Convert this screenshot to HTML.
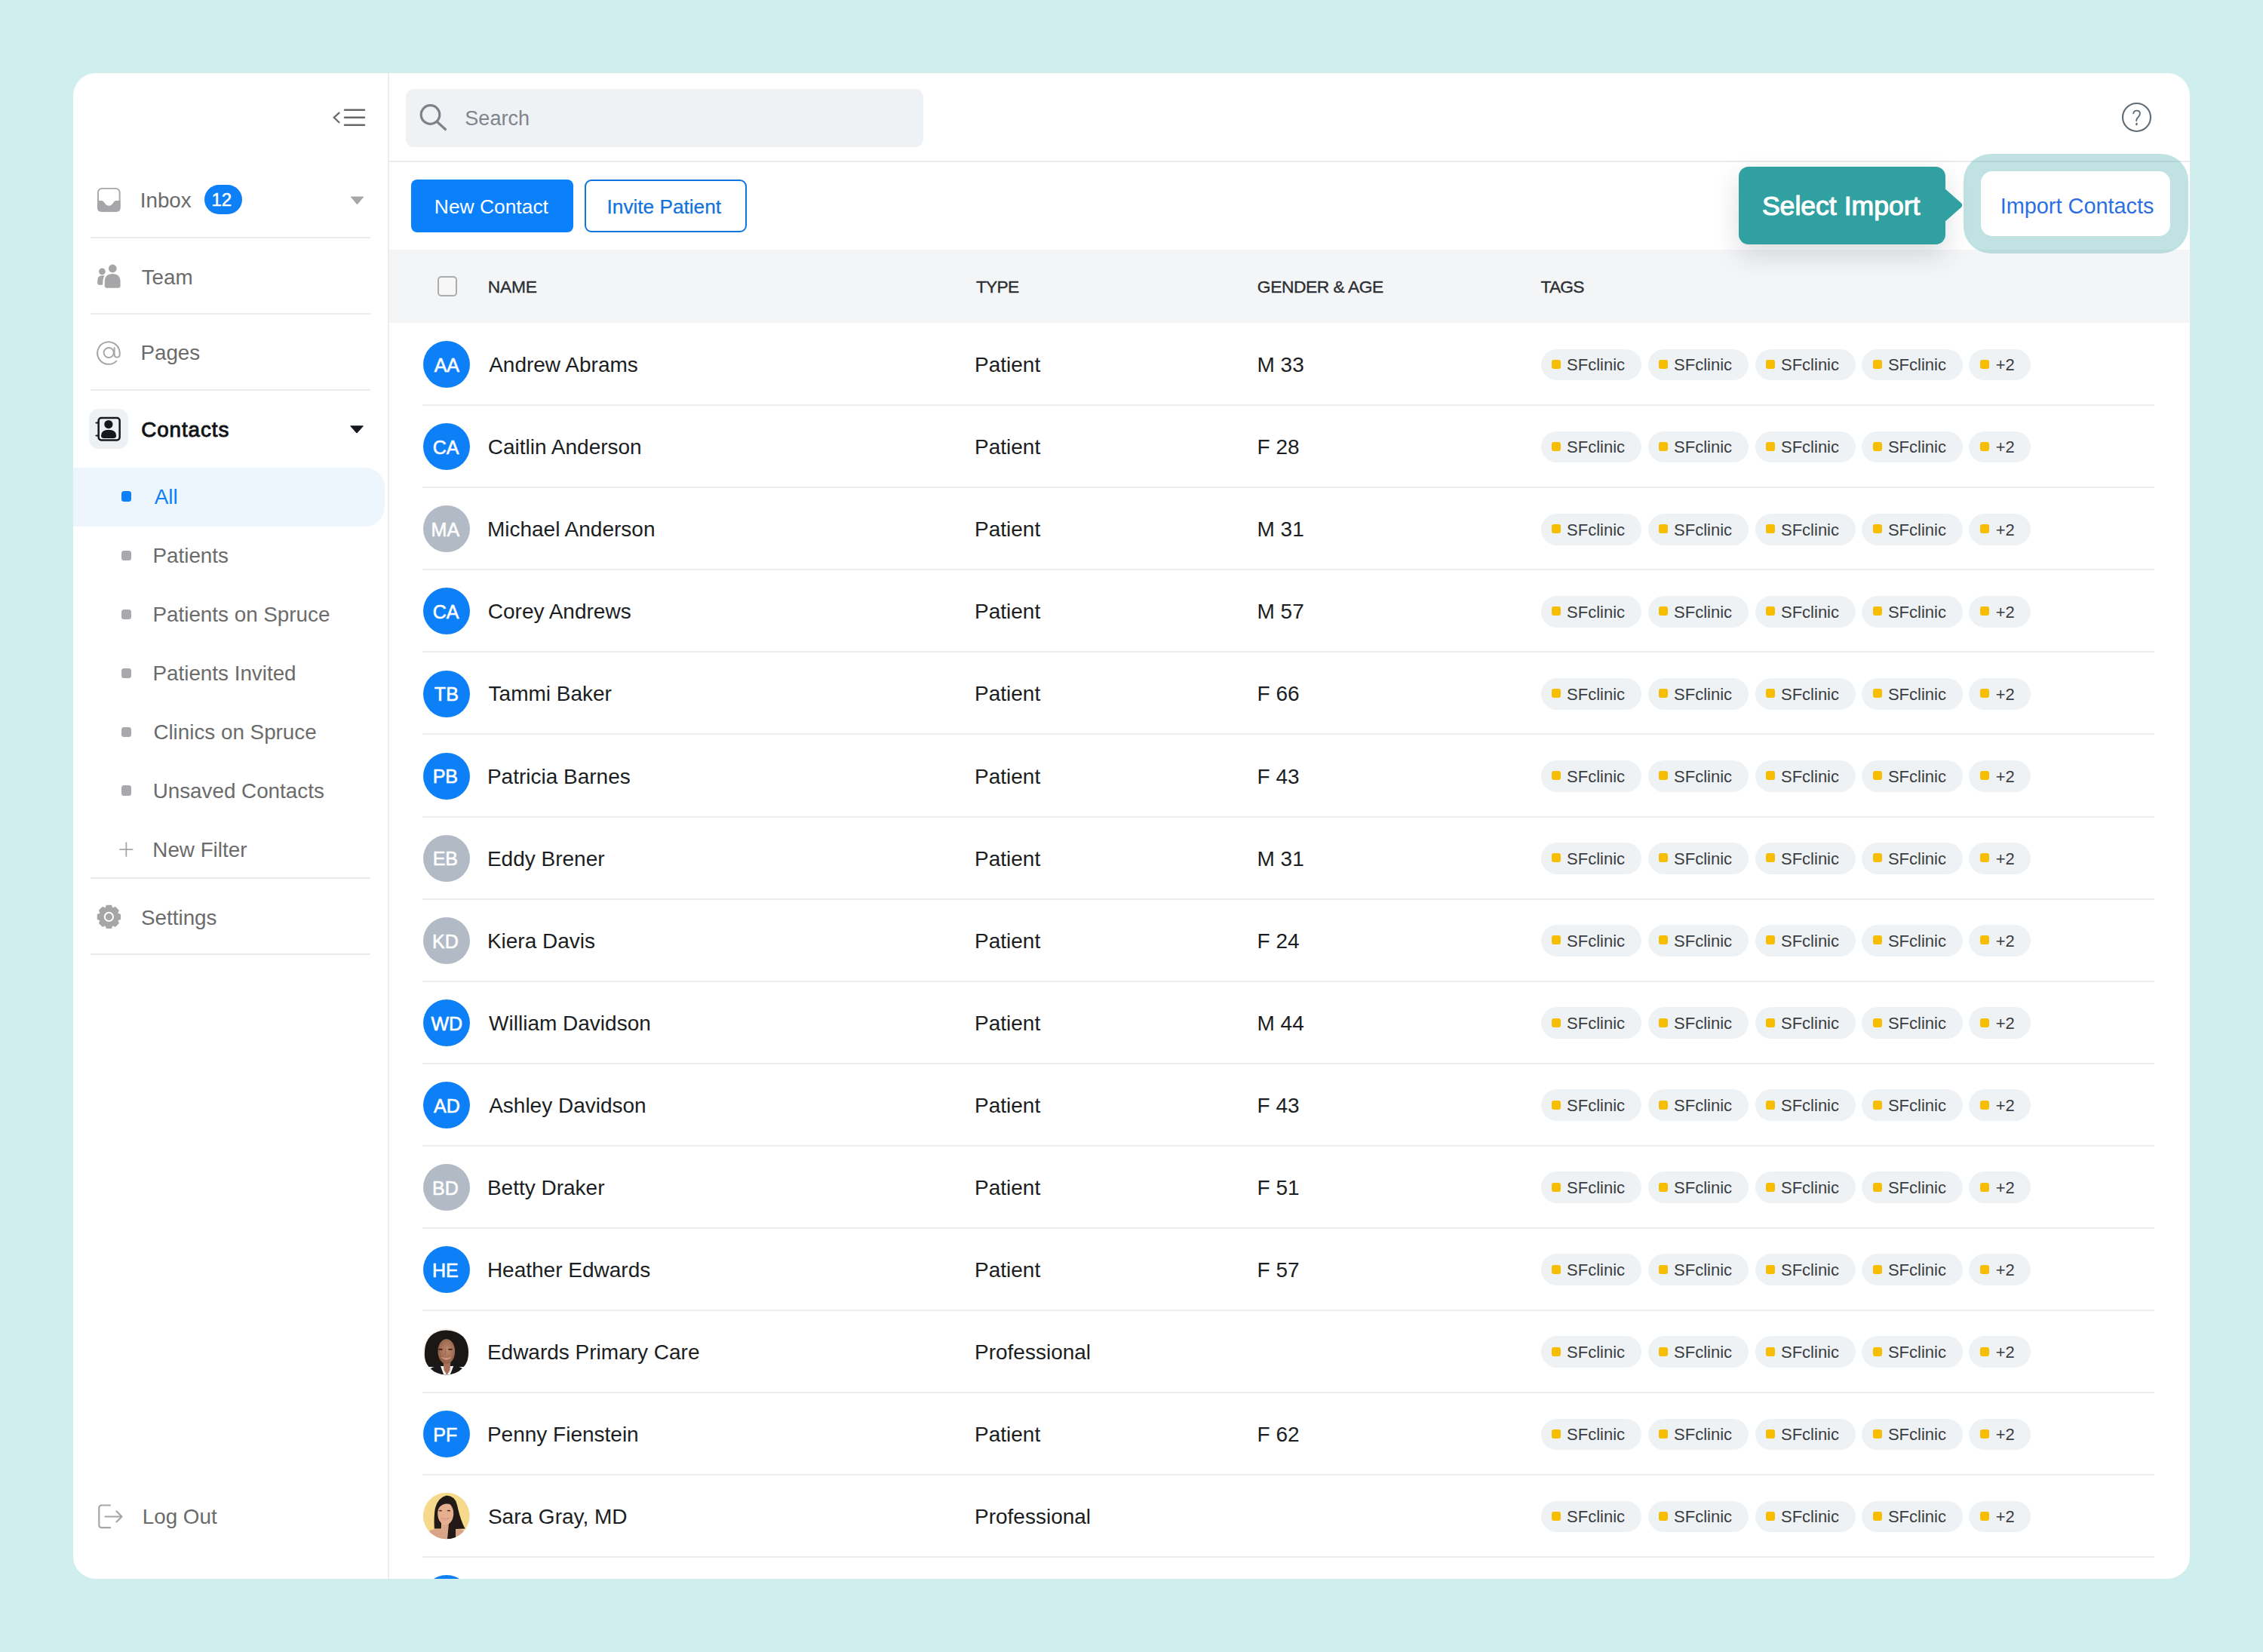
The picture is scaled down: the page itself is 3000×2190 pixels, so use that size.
<!DOCTYPE html><html><head><meta charset="utf-8"><style>
html,body{margin:0;padding:0;}
body{width:3000px;height:2190px;background:#d1eeee;position:relative;overflow:hidden;font-family:"Liberation Sans",sans-serif;}
.t{position:absolute;line-height:1;white-space:nowrap;}
.a{position:absolute;}
svg{position:absolute;overflow:visible;}
</style></head><body>
<div class="a" style="left:97px;top:97px;width:2806px;height:1996px;background:#fff;border-radius:30px;overflow:hidden;">
<div class="a" style="left:-97px;top:-97px;width:3000px;height:2190px;">
<div class="a" style="left:514px;top:97px;width:2px;height:1996px;background:#ececec;"></div>
<svg style="left:0;top:0" width="1" height="1"><g stroke="#686868" stroke-width="2.5" stroke-linecap="round" fill="none"><path d="M449.5 149.6 L442.8 155.8 L449.5 162.3" stroke-width="2.2"/><path d="M457 145.8H483M457 155.8H483M457 165.7H483"/></g></svg>
<div class="a" style="left:120px;top:314px;width:371px;height:2px;background:#ebebeb;"></div>
<div class="a" style="left:120px;top:415px;width:371px;height:2px;background:#ebebeb;"></div>
<div class="a" style="left:120px;top:516px;width:371px;height:2px;background:#ebebeb;"></div>
<div class="a" style="left:120px;top:1163px;width:371px;height:2px;background:#ebebeb;"></div>
<div class="a" style="left:120px;top:1264px;width:371px;height:2px;background:#ebebeb;"></div>
<svg style="left:0;top:0" width="1" height="1"><rect x="130.05" y="249.85" width="28.6" height="29.9" rx="5.2" fill="none" stroke="#a6a6a8" stroke-width="1.9"/>
<path d="M129.1 266 L134.5 266 C138.6 266 139.2 272.8 144.3 272.8 C149.4 272.8 150 266 154.1 266 L159.6 266 L159.6 275.8 Q159.6 280.7 154.8 280.7 L133.9 280.7 Q129.1 280.7 129.1 275.8 Z" fill="#a6a6a8"/></svg>
<div class="t" style="left:185.73px;top:252.17px;font-size:27.8px;color:#6b6b6b;">Inbox</div>
<div class="a" style="left:271px;top:245px;width:50px;height:39px;border-radius:20px;background:#0e80f7;"></div>
<div class="t" style="left:280.47px;top:253.18px;font-size:24px;color:#fff;-webkit-text-stroke:0.5px #fff;">12</div>
<svg style="left:0;top:0" width="1" height="1"><path d="M465.3 261 H481.7 L473.5 270.7 Z" fill="#a6a6a8" stroke="#a6a6a8" stroke-width="1" stroke-linejoin="round"/></svg>
<svg style="left:0;top:0" width="1" height="1"><g fill="#a6a6a8"><circle cx="135.4" cy="359.8" r="4.4"/><circle cx="149.3" cy="356" r="5.4"/>
<path d="M129.2 375.5 Q129.2 377.8 131.6 377.8 H136 L136.6 371 Q137.2 367.5 138.6 365.2 H134.5 Q129.2 366 129.2 372 Z"/>
<path d="M138.8 379 Q138.8 381.7 141.5 381.7 H156.8 Q159.6 381.7 159.6 379 V373.5 Q159.6 362.9 149.2 362.9 Q138.8 362.9 138.8 373.5 Z"/></g></svg>
<div class="t" style="left:187.68px;top:353.57px;font-size:27.8px;color:#6b6b6b;">Team</div>
<svg style="left:0;top:0" width="1" height="1"><g fill="none" stroke="#a6a6a8" stroke-width="2" stroke-linecap="round">
<path d="M154.3 478.6 A14.8 14.8 0 1 1 158.7 467.1 V469.6 Q158.7 473.8 155.2 473.8 Q151.6 473.8 151.6 469.6 V461"/><circle cx="144.2" cy="467.5" r="6.6"/></g></svg>
<div class="t" style="left:186.42px;top:453.77px;font-size:27.8px;color:#6b6b6b;">Pages</div>
<div class="a" style="left:117.8px;top:542px;width:52.4px;height:53px;border-radius:13px;background:#eef1f4;"></div>
<svg style="left:0;top:0" width="1" height="1"><rect x="130.65" y="554.05" width="28" height="29.4" rx="3.6" fill="none" stroke="#15181c" stroke-width="2.5"/>
<g fill="#15181c"><circle cx="143.9" cy="562.5" r="5.6"/><path d="M134 577.6 Q134 569.7 144 569.7 Q154.1 569.7 154.1 577.6 Q154.1 580.9 150.8 580.9 H137.3 Q134 580.9 134 577.6 Z"/>
<rect x="126.5" y="559.6" width="4.6" height="1.9" rx="0.9"/><rect x="126.5" y="576.6" width="4.6" height="1.9" rx="0.9"/></g></svg>
<div class="t" style="left:187.29px;top:556.37px;font-size:27.8px;color:#111418;letter-spacing:0.9px;-webkit-text-stroke:0.9px #111418;">Contacts</div>
<svg style="left:0;top:0" width="1" height="1"><path d="M464.7 564.8 H481.4 L473 574 Z" fill="#15181c" stroke="#15181c" stroke-width="1" stroke-linejoin="round"/></svg>
<div class="a" style="left:97px;top:620px;width:413px;height:78px;border-radius:0 26px 26px 0;background:#edf5fd;"></div>
<div class="a" style="left:160.6px;top:651.4px;width:13.8px;height:13.8px;border-radius:3.5px;background:#0e80f7;"></div>
<div class="t" style="left:204.75px;top:644.97px;font-size:27.8px;color:#0e80f7;">All</div>
<div class="a" style="left:160.6px;top:729.6px;width:13.8px;height:13.8px;border-radius:3.5px;background:#a9a9ad;"></div>
<div class="t" style="left:202.52px;top:723.17px;font-size:27.8px;color:#6b6b6b;">Patients</div>
<div class="a" style="left:160.6px;top:807.6px;width:13.8px;height:13.8px;border-radius:3.5px;background:#a9a9ad;"></div>
<div class="t" style="left:202.52px;top:801.17px;font-size:27.8px;color:#6b6b6b;">Patients on Spruce</div>
<div class="a" style="left:160.6px;top:885.6px;width:13.8px;height:13.8px;border-radius:3.5px;background:#a9a9ad;"></div>
<div class="t" style="left:202.52px;top:879.17px;font-size:27.8px;color:#6b6b6b;">Patients Invited</div>
<div class="a" style="left:160.6px;top:963.6px;width:13.8px;height:13.8px;border-radius:3.5px;background:#a9a9ad;"></div>
<div class="t" style="left:203.39px;top:957.17px;font-size:27.8px;color:#6b6b6b;">Clinics on Spruce</div>
<div class="a" style="left:160.6px;top:1041.3px;width:13.8px;height:13.8px;border-radius:3.5px;background:#a9a9ad;"></div>
<div class="t" style="left:202.66px;top:1034.87px;font-size:27.8px;color:#6b6b6b;">Unsaved Contacts</div>
<svg style="left:0;top:0" width="1" height="1"><g stroke="#a6a6a8" stroke-width="1.8"><path d="M158.4 1126.1 H176.3 M167.35 1116.5 V1135.7"/></g></svg>
<div class="t" style="left:202.32px;top:1112.87px;font-size:27.8px;color:#6b6b6b;">New Filter</div>
<svg style="left:0;top:0" width="1" height="1"><polygon points="159.30,1212.38 159.30,1218.42 155.82,1219.70 155.51,1220.43 157.07,1223.80 152.80,1228.07 149.43,1226.51 148.70,1226.82 147.42,1230.30 141.38,1230.30 140.10,1226.82 139.37,1226.51 136.00,1228.07 131.73,1223.80 133.29,1220.43 132.98,1219.70 129.50,1218.42 129.50,1212.38 132.98,1211.10 133.29,1210.37 131.73,1207.00 136.00,1202.73 139.37,1204.29 140.10,1203.98 141.38,1200.50 147.42,1200.50 148.70,1203.98 149.43,1204.29 152.80,1202.73 157.07,1207.00 155.51,1210.37 155.82,1211.10" fill="#a6a6a8" stroke="#a6a6a8" stroke-width="1.5" stroke-linejoin="round"/><circle cx="144.4" cy="1215.4" r="5.6" fill="none" stroke="#fff" stroke-width="2"/></svg>
<div class="t" style="left:187.04px;top:1202.67px;font-size:27.8px;color:#6b6b6b;">Settings</div>
<svg style="left:0;top:0" width="1" height="1"><g fill="none" stroke="#a6a6a8" stroke-width="2.2" stroke-linecap="round" stroke-linejoin="round">
<path d="M146 1995.5 H135 Q131.3 1995.5 131.3 1999 V2021.5 Q131.3 2025.2 135 2025.2 H146"/><path d="M139.5 2010.5 H161.5 M154.5 2003.5 L161.5 2010.5 L154.5 2017.5"/></g></svg>
<div class="t" style="left:188.72px;top:1997.47px;font-size:27.8px;color:#6b6b6b;">Log Out</div>
<div class="a" style="left:538px;top:117.5px;width:686px;height:77.5px;border-radius:11px;background:#eff2f5;"></div>
<svg style="left:0;top:0" width="1" height="1"><g fill="none" stroke="#7c8288" stroke-width="3.2" stroke-linecap="round"><circle cx="570.5" cy="152" r="12.3"/><path d="M579.5 161.5 L590.5 171.5"/></g></svg>
<div class="t" style="left:616.37px;top:144.14px;font-size:27px;color:#7f858b;">Search</div>
<svg style="left:0;top:0" width="1" height="1"><circle cx="2832.5" cy="155.5" r="18.5" fill="none" stroke="#5f6b75" stroke-width="2.1"/><path d="M2828.2 150.2 Q2828.8 146.6 2832.7 146.6 Q2836.9 146.6 2836.9 150.6 Q2836.9 153.3 2834.3 155.5 Q2832.2 157.3 2832.2 159.8 V160" fill="none" stroke="#5f6b75" stroke-width="1.9" stroke-linecap="round"/><ellipse cx="2832.5" cy="164.4" rx="1.3" ry="1.8" transform="rotate(12 2832.5 164.4)" fill="#5f6b75"/></svg>
<div class="a" style="left:516px;top:212.5px;width:2387px;height:2px;background:#ebeaee;"></div>
<div class="a" style="left:545px;top:238.3px;width:215px;height:69.3px;border-radius:8px;background:#0a80fb;"></div>
<div class="t" style="left:575.83px;top:261.05px;font-size:26.4px;color:#fff;">New Contact</div>
<div class="a" style="left:775px;top:238.3px;width:215px;height:69.6px;border-radius:9px;border:2.6px solid #0e74df;box-sizing:border-box;background:#fff;"></div>
<div class="t" style="left:804.58px;top:261.22px;font-size:26.2px;color:#1273dc;-webkit-text-stroke:0.25px #1273dc;">Invite Patient</div>
<div class="a" style="left:516px;top:331px;width:2387px;height:97px;background:#f4f5f7;"></div>
<div class="a" style="left:579.5px;top:366.3px;width:26px;height:26.7px;border-radius:5px;border:2px solid #acacac;box-sizing:border-box;background:#f7f7f8;"></div>
<div class="t" style="left:646.63px;top:369.00px;font-size:22.8px;color:#2b2f33;letter-spacing:-0.15px;-webkit-text-stroke:0.35px #2b2f33;">NAME</div>
<div class="t" style="left:1293.89px;top:369.00px;font-size:22.8px;color:#2b2f33;letter-spacing:-0.7px;-webkit-text-stroke:0.35px #2b2f33;">TYPE</div>
<div class="t" style="left:1666.85px;top:369.00px;font-size:22.8px;color:#2b2f33;letter-spacing:-0.45px;-webkit-text-stroke:0.35px #2b2f33;">GENDER &amp; AGE</div>
<div class="t" style="left:2042.49px;top:369.00px;font-size:22.8px;color:#2b2f33;letter-spacing:-0.8px;-webkit-text-stroke:0.35px #2b2f33;">TAGS</div>
<div class="a" style="left:2305px;top:221px;width:273.6px;height:102.7px;border-radius:13px;background:#31a0a0;box-shadow:0 14px 34px rgba(40,50,70,0.17);"></div>
<svg style="left:0;top:0" width="1" height="1"><path d="M2577 249 L2599.5 268.8 Q2603 272 2599.5 275.2 L2577 295 Z" fill="#31a0a0"/></svg>
<div class="t" style="left:2335.88px;top:255.76px;font-size:35.6px;color:#fff;-webkit-text-stroke:1.1px #fff;">Select Import</div>
<div class="a" style="left:2603px;top:204px;width:298px;height:131.7px;border-radius:36px;background:rgba(49,160,160,0.3);"></div>
<div class="a" style="left:2626px;top:227px;width:251px;height:86px;border-radius:15px;background:#fff;"></div>
<div class="t" style="left:2651.63px;top:258.94px;font-size:28.9px;color:#2d6fe3;">Import Contacts</div>
<div class="a" style="left:560px;top:536.17px;width:2296px;height:2px;background:#ededef;"></div>
<div class="a" style="left:561px;top:452.23px;width:62px;height:62px;border-radius:50%;background:#0e80f7;"></div>
<div class="t" style="left:575.68px;top:472.07px;font-size:25px;color:#fff;-webkit-text-stroke:0.6px #fff;">AA</div>
<div class="t" style="left:648.15px;top:470.20px;font-size:28px;color:#1b1e22;">Andrew Abrams</div>
<div class="t" style="left:1292.00px;top:470.20px;font-size:28px;color:#1b1e22;">Patient</div>
<div class="t" style="left:1666.50px;top:470.20px;font-size:28px;color:#1b1e22;">M 33</div>
<div class="a" style="left:2042.60px;top:462.60px;width:133.2px;height:41.8px;border-radius:21px;background:#eff2f5;"></div>
<div class="a" style="left:2057.10px;top:477.00px;width:12px;height:12px;border-radius:3px;background:#f7bd00;"></div>
<div class="t" style="left:2077.10px;top:473.38px;font-size:22px;color:#3a3d41;">SFclinic</div>
<div class="a" style="left:2184.55px;top:462.60px;width:133.2px;height:41.8px;border-radius:21px;background:#eff2f5;"></div>
<div class="a" style="left:2199.05px;top:477.00px;width:12px;height:12px;border-radius:3px;background:#f7bd00;"></div>
<div class="t" style="left:2219.05px;top:473.38px;font-size:22px;color:#3a3d41;">SFclinic</div>
<div class="a" style="left:2326.50px;top:462.60px;width:133.2px;height:41.8px;border-radius:21px;background:#eff2f5;"></div>
<div class="a" style="left:2341.00px;top:477.00px;width:12px;height:12px;border-radius:3px;background:#f7bd00;"></div>
<div class="t" style="left:2361.00px;top:473.38px;font-size:22px;color:#3a3d41;">SFclinic</div>
<div class="a" style="left:2468.45px;top:462.60px;width:133.2px;height:41.8px;border-radius:21px;background:#eff2f5;"></div>
<div class="a" style="left:2482.95px;top:477.00px;width:12px;height:12px;border-radius:3px;background:#f7bd00;"></div>
<div class="t" style="left:2502.95px;top:473.38px;font-size:22px;color:#3a3d41;">SFclinic</div>
<div class="a" style="left:2610.40px;top:462.60px;width:81.5px;height:41.8px;border-radius:21px;background:#eff2f5;"></div>
<div class="a" style="left:2624.90px;top:477.00px;width:12px;height:12px;border-radius:3px;background:#f7bd00;"></div>
<div class="t" style="left:2645.73px;top:473.38px;font-size:22px;color:#3a3d41;">+2</div>
<div class="a" style="left:560px;top:645.24px;width:2296px;height:2px;background:#ededef;"></div>
<div class="a" style="left:561px;top:561.30px;width:62px;height:62px;border-radius:50%;background:#0e80f7;"></div>
<div class="t" style="left:573.77px;top:581.14px;font-size:25px;color:#fff;-webkit-text-stroke:0.6px #fff;">CA</div>
<div class="t" style="left:646.78px;top:579.27px;font-size:28px;color:#1b1e22;">Caitlin Anderson</div>
<div class="t" style="left:1292.00px;top:579.27px;font-size:28px;color:#1b1e22;">Patient</div>
<div class="t" style="left:1666.50px;top:579.27px;font-size:28px;color:#1b1e22;">F 28</div>
<div class="a" style="left:2042.60px;top:571.67px;width:133.2px;height:41.8px;border-radius:21px;background:#eff2f5;"></div>
<div class="a" style="left:2057.10px;top:586.07px;width:12px;height:12px;border-radius:3px;background:#f7bd00;"></div>
<div class="t" style="left:2077.10px;top:582.45px;font-size:22px;color:#3a3d41;">SFclinic</div>
<div class="a" style="left:2184.55px;top:571.67px;width:133.2px;height:41.8px;border-radius:21px;background:#eff2f5;"></div>
<div class="a" style="left:2199.05px;top:586.07px;width:12px;height:12px;border-radius:3px;background:#f7bd00;"></div>
<div class="t" style="left:2219.05px;top:582.45px;font-size:22px;color:#3a3d41;">SFclinic</div>
<div class="a" style="left:2326.50px;top:571.67px;width:133.2px;height:41.8px;border-radius:21px;background:#eff2f5;"></div>
<div class="a" style="left:2341.00px;top:586.07px;width:12px;height:12px;border-radius:3px;background:#f7bd00;"></div>
<div class="t" style="left:2361.00px;top:582.45px;font-size:22px;color:#3a3d41;">SFclinic</div>
<div class="a" style="left:2468.45px;top:571.67px;width:133.2px;height:41.8px;border-radius:21px;background:#eff2f5;"></div>
<div class="a" style="left:2482.95px;top:586.07px;width:12px;height:12px;border-radius:3px;background:#f7bd00;"></div>
<div class="t" style="left:2502.95px;top:582.45px;font-size:22px;color:#3a3d41;">SFclinic</div>
<div class="a" style="left:2610.40px;top:571.67px;width:81.5px;height:41.8px;border-radius:21px;background:#eff2f5;"></div>
<div class="a" style="left:2624.90px;top:586.07px;width:12px;height:12px;border-radius:3px;background:#f7bd00;"></div>
<div class="t" style="left:2645.73px;top:582.45px;font-size:22px;color:#3a3d41;">+2</div>
<div class="a" style="left:560px;top:754.31px;width:2296px;height:2px;background:#ededef;"></div>
<div class="a" style="left:561px;top:670.38px;width:62px;height:62px;border-radius:50%;background:#b1bac5;"></div>
<div class="t" style="left:571.60px;top:690.21px;font-size:25px;color:#fff;-webkit-text-stroke:0.6px #fff;">MA</div>
<div class="t" style="left:645.90px;top:688.34px;font-size:28px;color:#1b1e22;">Michael Anderson</div>
<div class="t" style="left:1292.00px;top:688.34px;font-size:28px;color:#1b1e22;">Patient</div>
<div class="t" style="left:1666.50px;top:688.34px;font-size:28px;color:#1b1e22;">M 31</div>
<div class="a" style="left:2042.60px;top:680.74px;width:133.2px;height:41.8px;border-radius:21px;background:#eff2f5;"></div>
<div class="a" style="left:2057.10px;top:695.14px;width:12px;height:12px;border-radius:3px;background:#f7bd00;"></div>
<div class="t" style="left:2077.10px;top:691.52px;font-size:22px;color:#3a3d41;">SFclinic</div>
<div class="a" style="left:2184.55px;top:680.74px;width:133.2px;height:41.8px;border-radius:21px;background:#eff2f5;"></div>
<div class="a" style="left:2199.05px;top:695.14px;width:12px;height:12px;border-radius:3px;background:#f7bd00;"></div>
<div class="t" style="left:2219.05px;top:691.52px;font-size:22px;color:#3a3d41;">SFclinic</div>
<div class="a" style="left:2326.50px;top:680.74px;width:133.2px;height:41.8px;border-radius:21px;background:#eff2f5;"></div>
<div class="a" style="left:2341.00px;top:695.14px;width:12px;height:12px;border-radius:3px;background:#f7bd00;"></div>
<div class="t" style="left:2361.00px;top:691.52px;font-size:22px;color:#3a3d41;">SFclinic</div>
<div class="a" style="left:2468.45px;top:680.74px;width:133.2px;height:41.8px;border-radius:21px;background:#eff2f5;"></div>
<div class="a" style="left:2482.95px;top:695.14px;width:12px;height:12px;border-radius:3px;background:#f7bd00;"></div>
<div class="t" style="left:2502.95px;top:691.52px;font-size:22px;color:#3a3d41;">SFclinic</div>
<div class="a" style="left:2610.40px;top:680.74px;width:81.5px;height:41.8px;border-radius:21px;background:#eff2f5;"></div>
<div class="a" style="left:2624.90px;top:695.14px;width:12px;height:12px;border-radius:3px;background:#f7bd00;"></div>
<div class="t" style="left:2645.73px;top:691.52px;font-size:22px;color:#3a3d41;">+2</div>
<div class="a" style="left:560px;top:863.38px;width:2296px;height:2px;background:#ededef;"></div>
<div class="a" style="left:561px;top:779.45px;width:62px;height:62px;border-radius:50%;background:#0e80f7;"></div>
<div class="t" style="left:573.77px;top:799.28px;font-size:25px;color:#fff;-webkit-text-stroke:0.6px #fff;">CA</div>
<div class="t" style="left:646.78px;top:797.41px;font-size:28px;color:#1b1e22;">Corey Andrews</div>
<div class="t" style="left:1292.00px;top:797.41px;font-size:28px;color:#1b1e22;">Patient</div>
<div class="t" style="left:1666.50px;top:797.41px;font-size:28px;color:#1b1e22;">M 57</div>
<div class="a" style="left:2042.60px;top:789.81px;width:133.2px;height:41.8px;border-radius:21px;background:#eff2f5;"></div>
<div class="a" style="left:2057.10px;top:804.21px;width:12px;height:12px;border-radius:3px;background:#f7bd00;"></div>
<div class="t" style="left:2077.10px;top:800.59px;font-size:22px;color:#3a3d41;">SFclinic</div>
<div class="a" style="left:2184.55px;top:789.81px;width:133.2px;height:41.8px;border-radius:21px;background:#eff2f5;"></div>
<div class="a" style="left:2199.05px;top:804.21px;width:12px;height:12px;border-radius:3px;background:#f7bd00;"></div>
<div class="t" style="left:2219.05px;top:800.59px;font-size:22px;color:#3a3d41;">SFclinic</div>
<div class="a" style="left:2326.50px;top:789.81px;width:133.2px;height:41.8px;border-radius:21px;background:#eff2f5;"></div>
<div class="a" style="left:2341.00px;top:804.21px;width:12px;height:12px;border-radius:3px;background:#f7bd00;"></div>
<div class="t" style="left:2361.00px;top:800.59px;font-size:22px;color:#3a3d41;">SFclinic</div>
<div class="a" style="left:2468.45px;top:789.81px;width:133.2px;height:41.8px;border-radius:21px;background:#eff2f5;"></div>
<div class="a" style="left:2482.95px;top:804.21px;width:12px;height:12px;border-radius:3px;background:#f7bd00;"></div>
<div class="t" style="left:2502.95px;top:800.59px;font-size:22px;color:#3a3d41;">SFclinic</div>
<div class="a" style="left:2610.40px;top:789.81px;width:81.5px;height:41.8px;border-radius:21px;background:#eff2f5;"></div>
<div class="a" style="left:2624.90px;top:804.21px;width:12px;height:12px;border-radius:3px;background:#f7bd00;"></div>
<div class="t" style="left:2645.73px;top:800.59px;font-size:22px;color:#3a3d41;">+2</div>
<div class="a" style="left:560px;top:972.45px;width:2296px;height:2px;background:#ededef;"></div>
<div class="a" style="left:561px;top:888.51px;width:62px;height:62px;border-radius:50%;background:#0e80f7;"></div>
<div class="t" style="left:575.86px;top:908.35px;font-size:25px;color:#fff;-webkit-text-stroke:0.6px #fff;">TB</div>
<div class="t" style="left:647.57px;top:906.48px;font-size:28px;color:#1b1e22;">Tammi Baker</div>
<div class="t" style="left:1292.00px;top:906.48px;font-size:28px;color:#1b1e22;">Patient</div>
<div class="t" style="left:1666.50px;top:906.48px;font-size:28px;color:#1b1e22;">F 66</div>
<div class="a" style="left:2042.60px;top:898.88px;width:133.2px;height:41.8px;border-radius:21px;background:#eff2f5;"></div>
<div class="a" style="left:2057.10px;top:913.28px;width:12px;height:12px;border-radius:3px;background:#f7bd00;"></div>
<div class="t" style="left:2077.10px;top:909.66px;font-size:22px;color:#3a3d41;">SFclinic</div>
<div class="a" style="left:2184.55px;top:898.88px;width:133.2px;height:41.8px;border-radius:21px;background:#eff2f5;"></div>
<div class="a" style="left:2199.05px;top:913.28px;width:12px;height:12px;border-radius:3px;background:#f7bd00;"></div>
<div class="t" style="left:2219.05px;top:909.66px;font-size:22px;color:#3a3d41;">SFclinic</div>
<div class="a" style="left:2326.50px;top:898.88px;width:133.2px;height:41.8px;border-radius:21px;background:#eff2f5;"></div>
<div class="a" style="left:2341.00px;top:913.28px;width:12px;height:12px;border-radius:3px;background:#f7bd00;"></div>
<div class="t" style="left:2361.00px;top:909.66px;font-size:22px;color:#3a3d41;">SFclinic</div>
<div class="a" style="left:2468.45px;top:898.88px;width:133.2px;height:41.8px;border-radius:21px;background:#eff2f5;"></div>
<div class="a" style="left:2482.95px;top:913.28px;width:12px;height:12px;border-radius:3px;background:#f7bd00;"></div>
<div class="t" style="left:2502.95px;top:909.66px;font-size:22px;color:#3a3d41;">SFclinic</div>
<div class="a" style="left:2610.40px;top:898.88px;width:81.5px;height:41.8px;border-radius:21px;background:#eff2f5;"></div>
<div class="a" style="left:2624.90px;top:913.28px;width:12px;height:12px;border-radius:3px;background:#f7bd00;"></div>
<div class="t" style="left:2645.73px;top:909.66px;font-size:22px;color:#3a3d41;">+2</div>
<div class="a" style="left:560px;top:1081.52px;width:2296px;height:2px;background:#ededef;"></div>
<div class="a" style="left:561px;top:997.59px;width:62px;height:62px;border-radius:50%;background:#0e80f7;"></div>
<div class="t" style="left:573.67px;top:1017.42px;font-size:25px;color:#fff;-webkit-text-stroke:0.6px #fff;">PB</div>
<div class="t" style="left:645.90px;top:1015.55px;font-size:28px;color:#1b1e22;">Patricia Barnes</div>
<div class="t" style="left:1292.00px;top:1015.55px;font-size:28px;color:#1b1e22;">Patient</div>
<div class="t" style="left:1666.50px;top:1015.55px;font-size:28px;color:#1b1e22;">F 43</div>
<div class="a" style="left:2042.60px;top:1007.95px;width:133.2px;height:41.8px;border-radius:21px;background:#eff2f5;"></div>
<div class="a" style="left:2057.10px;top:1022.35px;width:12px;height:12px;border-radius:3px;background:#f7bd00;"></div>
<div class="t" style="left:2077.10px;top:1018.73px;font-size:22px;color:#3a3d41;">SFclinic</div>
<div class="a" style="left:2184.55px;top:1007.95px;width:133.2px;height:41.8px;border-radius:21px;background:#eff2f5;"></div>
<div class="a" style="left:2199.05px;top:1022.35px;width:12px;height:12px;border-radius:3px;background:#f7bd00;"></div>
<div class="t" style="left:2219.05px;top:1018.73px;font-size:22px;color:#3a3d41;">SFclinic</div>
<div class="a" style="left:2326.50px;top:1007.95px;width:133.2px;height:41.8px;border-radius:21px;background:#eff2f5;"></div>
<div class="a" style="left:2341.00px;top:1022.35px;width:12px;height:12px;border-radius:3px;background:#f7bd00;"></div>
<div class="t" style="left:2361.00px;top:1018.73px;font-size:22px;color:#3a3d41;">SFclinic</div>
<div class="a" style="left:2468.45px;top:1007.95px;width:133.2px;height:41.8px;border-radius:21px;background:#eff2f5;"></div>
<div class="a" style="left:2482.95px;top:1022.35px;width:12px;height:12px;border-radius:3px;background:#f7bd00;"></div>
<div class="t" style="left:2502.95px;top:1018.73px;font-size:22px;color:#3a3d41;">SFclinic</div>
<div class="a" style="left:2610.40px;top:1007.95px;width:81.5px;height:41.8px;border-radius:21px;background:#eff2f5;"></div>
<div class="a" style="left:2624.90px;top:1022.35px;width:12px;height:12px;border-radius:3px;background:#f7bd00;"></div>
<div class="t" style="left:2645.73px;top:1018.73px;font-size:22px;color:#3a3d41;">+2</div>
<div class="a" style="left:560px;top:1190.59px;width:2296px;height:2px;background:#ededef;"></div>
<div class="a" style="left:561px;top:1106.66px;width:62px;height:62px;border-radius:50%;background:#b1bac5;"></div>
<div class="t" style="left:573.67px;top:1126.49px;font-size:25px;color:#fff;-webkit-text-stroke:0.6px #fff;">EB</div>
<div class="t" style="left:645.90px;top:1124.62px;font-size:28px;color:#1b1e22;">Eddy Brener</div>
<div class="t" style="left:1292.00px;top:1124.62px;font-size:28px;color:#1b1e22;">Patient</div>
<div class="t" style="left:1666.50px;top:1124.62px;font-size:28px;color:#1b1e22;">M 31</div>
<div class="a" style="left:2042.60px;top:1117.02px;width:133.2px;height:41.8px;border-radius:21px;background:#eff2f5;"></div>
<div class="a" style="left:2057.10px;top:1131.42px;width:12px;height:12px;border-radius:3px;background:#f7bd00;"></div>
<div class="t" style="left:2077.10px;top:1127.80px;font-size:22px;color:#3a3d41;">SFclinic</div>
<div class="a" style="left:2184.55px;top:1117.02px;width:133.2px;height:41.8px;border-radius:21px;background:#eff2f5;"></div>
<div class="a" style="left:2199.05px;top:1131.42px;width:12px;height:12px;border-radius:3px;background:#f7bd00;"></div>
<div class="t" style="left:2219.05px;top:1127.80px;font-size:22px;color:#3a3d41;">SFclinic</div>
<div class="a" style="left:2326.50px;top:1117.02px;width:133.2px;height:41.8px;border-radius:21px;background:#eff2f5;"></div>
<div class="a" style="left:2341.00px;top:1131.42px;width:12px;height:12px;border-radius:3px;background:#f7bd00;"></div>
<div class="t" style="left:2361.00px;top:1127.80px;font-size:22px;color:#3a3d41;">SFclinic</div>
<div class="a" style="left:2468.45px;top:1117.02px;width:133.2px;height:41.8px;border-radius:21px;background:#eff2f5;"></div>
<div class="a" style="left:2482.95px;top:1131.42px;width:12px;height:12px;border-radius:3px;background:#f7bd00;"></div>
<div class="t" style="left:2502.95px;top:1127.80px;font-size:22px;color:#3a3d41;">SFclinic</div>
<div class="a" style="left:2610.40px;top:1117.02px;width:81.5px;height:41.8px;border-radius:21px;background:#eff2f5;"></div>
<div class="a" style="left:2624.90px;top:1131.42px;width:12px;height:12px;border-radius:3px;background:#f7bd00;"></div>
<div class="t" style="left:2645.73px;top:1127.80px;font-size:22px;color:#3a3d41;">+2</div>
<div class="a" style="left:560px;top:1299.66px;width:2296px;height:2px;background:#ededef;"></div>
<div class="a" style="left:561px;top:1215.73px;width:62px;height:62px;border-radius:50%;background:#b1bac5;"></div>
<div class="t" style="left:572.99px;top:1235.56px;font-size:25px;color:#fff;-webkit-text-stroke:0.6px #fff;">KD</div>
<div class="t" style="left:645.90px;top:1233.69px;font-size:28px;color:#1b1e22;">Kiera Davis</div>
<div class="t" style="left:1292.00px;top:1233.69px;font-size:28px;color:#1b1e22;">Patient</div>
<div class="t" style="left:1666.50px;top:1233.69px;font-size:28px;color:#1b1e22;">F 24</div>
<div class="a" style="left:2042.60px;top:1226.09px;width:133.2px;height:41.8px;border-radius:21px;background:#eff2f5;"></div>
<div class="a" style="left:2057.10px;top:1240.49px;width:12px;height:12px;border-radius:3px;background:#f7bd00;"></div>
<div class="t" style="left:2077.10px;top:1236.87px;font-size:22px;color:#3a3d41;">SFclinic</div>
<div class="a" style="left:2184.55px;top:1226.09px;width:133.2px;height:41.8px;border-radius:21px;background:#eff2f5;"></div>
<div class="a" style="left:2199.05px;top:1240.49px;width:12px;height:12px;border-radius:3px;background:#f7bd00;"></div>
<div class="t" style="left:2219.05px;top:1236.87px;font-size:22px;color:#3a3d41;">SFclinic</div>
<div class="a" style="left:2326.50px;top:1226.09px;width:133.2px;height:41.8px;border-radius:21px;background:#eff2f5;"></div>
<div class="a" style="left:2341.00px;top:1240.49px;width:12px;height:12px;border-radius:3px;background:#f7bd00;"></div>
<div class="t" style="left:2361.00px;top:1236.87px;font-size:22px;color:#3a3d41;">SFclinic</div>
<div class="a" style="left:2468.45px;top:1226.09px;width:133.2px;height:41.8px;border-radius:21px;background:#eff2f5;"></div>
<div class="a" style="left:2482.95px;top:1240.49px;width:12px;height:12px;border-radius:3px;background:#f7bd00;"></div>
<div class="t" style="left:2502.95px;top:1236.87px;font-size:22px;color:#3a3d41;">SFclinic</div>
<div class="a" style="left:2610.40px;top:1226.09px;width:81.5px;height:41.8px;border-radius:21px;background:#eff2f5;"></div>
<div class="a" style="left:2624.90px;top:1240.49px;width:12px;height:12px;border-radius:3px;background:#f7bd00;"></div>
<div class="t" style="left:2645.73px;top:1236.87px;font-size:22px;color:#3a3d41;">+2</div>
<div class="a" style="left:560px;top:1408.73px;width:2296px;height:2px;background:#ededef;"></div>
<div class="a" style="left:561px;top:1324.80px;width:62px;height:62px;border-radius:50%;background:#0e80f7;"></div>
<div class="t" style="left:571.47px;top:1344.63px;font-size:25px;color:#fff;-webkit-text-stroke:0.6px #fff;">WD</div>
<div class="t" style="left:648.08px;top:1342.76px;font-size:28px;color:#1b1e22;">William Davidson</div>
<div class="t" style="left:1292.00px;top:1342.76px;font-size:28px;color:#1b1e22;">Patient</div>
<div class="t" style="left:1666.50px;top:1342.76px;font-size:28px;color:#1b1e22;">M 44</div>
<div class="a" style="left:2042.60px;top:1335.16px;width:133.2px;height:41.8px;border-radius:21px;background:#eff2f5;"></div>
<div class="a" style="left:2057.10px;top:1349.56px;width:12px;height:12px;border-radius:3px;background:#f7bd00;"></div>
<div class="t" style="left:2077.10px;top:1345.94px;font-size:22px;color:#3a3d41;">SFclinic</div>
<div class="a" style="left:2184.55px;top:1335.16px;width:133.2px;height:41.8px;border-radius:21px;background:#eff2f5;"></div>
<div class="a" style="left:2199.05px;top:1349.56px;width:12px;height:12px;border-radius:3px;background:#f7bd00;"></div>
<div class="t" style="left:2219.05px;top:1345.94px;font-size:22px;color:#3a3d41;">SFclinic</div>
<div class="a" style="left:2326.50px;top:1335.16px;width:133.2px;height:41.8px;border-radius:21px;background:#eff2f5;"></div>
<div class="a" style="left:2341.00px;top:1349.56px;width:12px;height:12px;border-radius:3px;background:#f7bd00;"></div>
<div class="t" style="left:2361.00px;top:1345.94px;font-size:22px;color:#3a3d41;">SFclinic</div>
<div class="a" style="left:2468.45px;top:1335.16px;width:133.2px;height:41.8px;border-radius:21px;background:#eff2f5;"></div>
<div class="a" style="left:2482.95px;top:1349.56px;width:12px;height:12px;border-radius:3px;background:#f7bd00;"></div>
<div class="t" style="left:2502.95px;top:1345.94px;font-size:22px;color:#3a3d41;">SFclinic</div>
<div class="a" style="left:2610.40px;top:1335.16px;width:81.5px;height:41.8px;border-radius:21px;background:#eff2f5;"></div>
<div class="a" style="left:2624.90px;top:1349.56px;width:12px;height:12px;border-radius:3px;background:#f7bd00;"></div>
<div class="t" style="left:2645.73px;top:1345.94px;font-size:22px;color:#3a3d41;">+2</div>
<div class="a" style="left:560px;top:1517.80px;width:2296px;height:2px;background:#ededef;"></div>
<div class="a" style="left:561px;top:1433.87px;width:62px;height:62px;border-radius:50%;background:#0e80f7;"></div>
<div class="t" style="left:574.99px;top:1453.70px;font-size:25px;color:#fff;-webkit-text-stroke:0.6px #fff;">AD</div>
<div class="t" style="left:648.15px;top:1451.83px;font-size:28px;color:#1b1e22;">Ashley Davidson</div>
<div class="t" style="left:1292.00px;top:1451.83px;font-size:28px;color:#1b1e22;">Patient</div>
<div class="t" style="left:1666.50px;top:1451.83px;font-size:28px;color:#1b1e22;">F 43</div>
<div class="a" style="left:2042.60px;top:1444.23px;width:133.2px;height:41.8px;border-radius:21px;background:#eff2f5;"></div>
<div class="a" style="left:2057.10px;top:1458.63px;width:12px;height:12px;border-radius:3px;background:#f7bd00;"></div>
<div class="t" style="left:2077.10px;top:1455.01px;font-size:22px;color:#3a3d41;">SFclinic</div>
<div class="a" style="left:2184.55px;top:1444.23px;width:133.2px;height:41.8px;border-radius:21px;background:#eff2f5;"></div>
<div class="a" style="left:2199.05px;top:1458.63px;width:12px;height:12px;border-radius:3px;background:#f7bd00;"></div>
<div class="t" style="left:2219.05px;top:1455.01px;font-size:22px;color:#3a3d41;">SFclinic</div>
<div class="a" style="left:2326.50px;top:1444.23px;width:133.2px;height:41.8px;border-radius:21px;background:#eff2f5;"></div>
<div class="a" style="left:2341.00px;top:1458.63px;width:12px;height:12px;border-radius:3px;background:#f7bd00;"></div>
<div class="t" style="left:2361.00px;top:1455.01px;font-size:22px;color:#3a3d41;">SFclinic</div>
<div class="a" style="left:2468.45px;top:1444.23px;width:133.2px;height:41.8px;border-radius:21px;background:#eff2f5;"></div>
<div class="a" style="left:2482.95px;top:1458.63px;width:12px;height:12px;border-radius:3px;background:#f7bd00;"></div>
<div class="t" style="left:2502.95px;top:1455.01px;font-size:22px;color:#3a3d41;">SFclinic</div>
<div class="a" style="left:2610.40px;top:1444.23px;width:81.5px;height:41.8px;border-radius:21px;background:#eff2f5;"></div>
<div class="a" style="left:2624.90px;top:1458.63px;width:12px;height:12px;border-radius:3px;background:#f7bd00;"></div>
<div class="t" style="left:2645.73px;top:1455.01px;font-size:22px;color:#3a3d41;">+2</div>
<div class="a" style="left:560px;top:1626.87px;width:2296px;height:2px;background:#ededef;"></div>
<div class="a" style="left:561px;top:1542.93px;width:62px;height:62px;border-radius:50%;background:#b1bac5;"></div>
<div class="t" style="left:572.99px;top:1562.77px;font-size:25px;color:#fff;-webkit-text-stroke:0.6px #fff;">BD</div>
<div class="t" style="left:645.90px;top:1560.90px;font-size:28px;color:#1b1e22;">Betty Draker</div>
<div class="t" style="left:1292.00px;top:1560.90px;font-size:28px;color:#1b1e22;">Patient</div>
<div class="t" style="left:1666.50px;top:1560.90px;font-size:28px;color:#1b1e22;">F 51</div>
<div class="a" style="left:2042.60px;top:1553.30px;width:133.2px;height:41.8px;border-radius:21px;background:#eff2f5;"></div>
<div class="a" style="left:2057.10px;top:1567.70px;width:12px;height:12px;border-radius:3px;background:#f7bd00;"></div>
<div class="t" style="left:2077.10px;top:1564.08px;font-size:22px;color:#3a3d41;">SFclinic</div>
<div class="a" style="left:2184.55px;top:1553.30px;width:133.2px;height:41.8px;border-radius:21px;background:#eff2f5;"></div>
<div class="a" style="left:2199.05px;top:1567.70px;width:12px;height:12px;border-radius:3px;background:#f7bd00;"></div>
<div class="t" style="left:2219.05px;top:1564.08px;font-size:22px;color:#3a3d41;">SFclinic</div>
<div class="a" style="left:2326.50px;top:1553.30px;width:133.2px;height:41.8px;border-radius:21px;background:#eff2f5;"></div>
<div class="a" style="left:2341.00px;top:1567.70px;width:12px;height:12px;border-radius:3px;background:#f7bd00;"></div>
<div class="t" style="left:2361.00px;top:1564.08px;font-size:22px;color:#3a3d41;">SFclinic</div>
<div class="a" style="left:2468.45px;top:1553.30px;width:133.2px;height:41.8px;border-radius:21px;background:#eff2f5;"></div>
<div class="a" style="left:2482.95px;top:1567.70px;width:12px;height:12px;border-radius:3px;background:#f7bd00;"></div>
<div class="t" style="left:2502.95px;top:1564.08px;font-size:22px;color:#3a3d41;">SFclinic</div>
<div class="a" style="left:2610.40px;top:1553.30px;width:81.5px;height:41.8px;border-radius:21px;background:#eff2f5;"></div>
<div class="a" style="left:2624.90px;top:1567.70px;width:12px;height:12px;border-radius:3px;background:#f7bd00;"></div>
<div class="t" style="left:2645.73px;top:1564.08px;font-size:22px;color:#3a3d41;">+2</div>
<div class="a" style="left:560px;top:1735.94px;width:2296px;height:2px;background:#ededef;"></div>
<div class="a" style="left:561px;top:1652.01px;width:62px;height:62px;border-radius:50%;background:#0e80f7;"></div>
<div class="t" style="left:572.99px;top:1671.84px;font-size:25px;color:#fff;-webkit-text-stroke:0.6px #fff;">HE</div>
<div class="t" style="left:645.90px;top:1669.97px;font-size:28px;color:#1b1e22;">Heather Edwards</div>
<div class="t" style="left:1292.00px;top:1669.97px;font-size:28px;color:#1b1e22;">Patient</div>
<div class="t" style="left:1666.50px;top:1669.97px;font-size:28px;color:#1b1e22;">F 57</div>
<div class="a" style="left:2042.60px;top:1662.37px;width:133.2px;height:41.8px;border-radius:21px;background:#eff2f5;"></div>
<div class="a" style="left:2057.10px;top:1676.77px;width:12px;height:12px;border-radius:3px;background:#f7bd00;"></div>
<div class="t" style="left:2077.10px;top:1673.15px;font-size:22px;color:#3a3d41;">SFclinic</div>
<div class="a" style="left:2184.55px;top:1662.37px;width:133.2px;height:41.8px;border-radius:21px;background:#eff2f5;"></div>
<div class="a" style="left:2199.05px;top:1676.77px;width:12px;height:12px;border-radius:3px;background:#f7bd00;"></div>
<div class="t" style="left:2219.05px;top:1673.15px;font-size:22px;color:#3a3d41;">SFclinic</div>
<div class="a" style="left:2326.50px;top:1662.37px;width:133.2px;height:41.8px;border-radius:21px;background:#eff2f5;"></div>
<div class="a" style="left:2341.00px;top:1676.77px;width:12px;height:12px;border-radius:3px;background:#f7bd00;"></div>
<div class="t" style="left:2361.00px;top:1673.15px;font-size:22px;color:#3a3d41;">SFclinic</div>
<div class="a" style="left:2468.45px;top:1662.37px;width:133.2px;height:41.8px;border-radius:21px;background:#eff2f5;"></div>
<div class="a" style="left:2482.95px;top:1676.77px;width:12px;height:12px;border-radius:3px;background:#f7bd00;"></div>
<div class="t" style="left:2502.95px;top:1673.15px;font-size:22px;color:#3a3d41;">SFclinic</div>
<div class="a" style="left:2610.40px;top:1662.37px;width:81.5px;height:41.8px;border-radius:21px;background:#eff2f5;"></div>
<div class="a" style="left:2624.90px;top:1676.77px;width:12px;height:12px;border-radius:3px;background:#f7bd00;"></div>
<div class="t" style="left:2645.73px;top:1673.15px;font-size:22px;color:#3a3d41;">+2</div>
<div class="a" style="left:560px;top:1845.01px;width:2296px;height:2px;background:#ededef;"></div>
<svg style="left:561.2px;top:1761.08px" width="62" height="62" viewBox="0 0 62 62"><defs><clipPath id="c1"><circle cx="30.6" cy="31" r="30.6"/></clipPath>
<radialGradient id="sk1" cx="0.55" cy="0.45" r="0.6"><stop offset="0" stop-color="#c08a6e"/><stop offset="1" stop-color="#8e5c44"/></radialGradient></defs><g clip-path="url(#c1)">
<rect width="62" height="62" fill="#f1efed"/>
<path d="M7 51 Q1 43 2 32 Q2 18 10 10 Q19 2 31 2.5 Q45 3 53 11 Q60 19 60 32 Q60 43 55 51 Z" fill="#1b1715"/>
<path d="M4 62 Q7 52.5 16 50.5 L25 49 H37 L46 50.5 Q55 52.5 58 62 Z" fill="#19191b"/>
<path d="M23 50 L27.5 62 H35.5 L40.2 50 Z" fill="#f3eee9"/><path d="M26.6 44 H36.4 L35.5 55 L31.5 62 L27.5 55 Z" fill="#a87058"/>
<ellipse cx="30.8" cy="30.5" rx="11.3" ry="16.5" fill="url(#sk1)"/>
<path d="M19 22 Q22 11 31 11 Q40 11 43 22 Q41 15 31 14 Q21 15 19 22 Z" fill="#1b1715"/>
<path d="M20.5 28.3 Q22.5 26.8 25.5 28.3" stroke="#3a2219" stroke-width="1.7" fill="none"/><path d="M33.5 28.3 Q36 26.8 38.5 28.3" stroke="#3a2219" stroke-width="1.7" fill="none"/>
<path d="M29.5 27 Q30 33 29 35" stroke="#9a6148" stroke-width="1" fill="none"/>
<path d="M24.3 38.5 Q31 43.5 37 38.5 Q31 40.5 24.3 38.5 Z" fill="#f4e3da" stroke="#c98f78" stroke-width="1.1"/></g></svg>
<div class="t" style="left:645.90px;top:1779.04px;font-size:28px;color:#1b1e22;">Edwards Primary Care</div>
<div class="t" style="left:1292.00px;top:1779.04px;font-size:28px;color:#1b1e22;">Professional</div>
<div class="a" style="left:2042.60px;top:1771.44px;width:133.2px;height:41.8px;border-radius:21px;background:#eff2f5;"></div>
<div class="a" style="left:2057.10px;top:1785.84px;width:12px;height:12px;border-radius:3px;background:#f7bd00;"></div>
<div class="t" style="left:2077.10px;top:1782.22px;font-size:22px;color:#3a3d41;">SFclinic</div>
<div class="a" style="left:2184.55px;top:1771.44px;width:133.2px;height:41.8px;border-radius:21px;background:#eff2f5;"></div>
<div class="a" style="left:2199.05px;top:1785.84px;width:12px;height:12px;border-radius:3px;background:#f7bd00;"></div>
<div class="t" style="left:2219.05px;top:1782.22px;font-size:22px;color:#3a3d41;">SFclinic</div>
<div class="a" style="left:2326.50px;top:1771.44px;width:133.2px;height:41.8px;border-radius:21px;background:#eff2f5;"></div>
<div class="a" style="left:2341.00px;top:1785.84px;width:12px;height:12px;border-radius:3px;background:#f7bd00;"></div>
<div class="t" style="left:2361.00px;top:1782.22px;font-size:22px;color:#3a3d41;">SFclinic</div>
<div class="a" style="left:2468.45px;top:1771.44px;width:133.2px;height:41.8px;border-radius:21px;background:#eff2f5;"></div>
<div class="a" style="left:2482.95px;top:1785.84px;width:12px;height:12px;border-radius:3px;background:#f7bd00;"></div>
<div class="t" style="left:2502.95px;top:1782.22px;font-size:22px;color:#3a3d41;">SFclinic</div>
<div class="a" style="left:2610.40px;top:1771.44px;width:81.5px;height:41.8px;border-radius:21px;background:#eff2f5;"></div>
<div class="a" style="left:2624.90px;top:1785.84px;width:12px;height:12px;border-radius:3px;background:#f7bd00;"></div>
<div class="t" style="left:2645.73px;top:1782.22px;font-size:22px;color:#3a3d41;">+2</div>
<div class="a" style="left:560px;top:1954.08px;width:2296px;height:2px;background:#ededef;"></div>
<div class="a" style="left:561px;top:1870.14px;width:62px;height:62px;border-radius:50%;background:#0e80f7;"></div>
<div class="t" style="left:574.37px;top:1889.98px;font-size:25px;color:#fff;-webkit-text-stroke:0.6px #fff;">PF</div>
<div class="t" style="left:645.90px;top:1888.11px;font-size:28px;color:#1b1e22;">Penny Fienstein</div>
<div class="t" style="left:1292.00px;top:1888.11px;font-size:28px;color:#1b1e22;">Patient</div>
<div class="t" style="left:1666.50px;top:1888.11px;font-size:28px;color:#1b1e22;">F 62</div>
<div class="a" style="left:2042.60px;top:1880.51px;width:133.2px;height:41.8px;border-radius:21px;background:#eff2f5;"></div>
<div class="a" style="left:2057.10px;top:1894.91px;width:12px;height:12px;border-radius:3px;background:#f7bd00;"></div>
<div class="t" style="left:2077.10px;top:1891.29px;font-size:22px;color:#3a3d41;">SFclinic</div>
<div class="a" style="left:2184.55px;top:1880.51px;width:133.2px;height:41.8px;border-radius:21px;background:#eff2f5;"></div>
<div class="a" style="left:2199.05px;top:1894.91px;width:12px;height:12px;border-radius:3px;background:#f7bd00;"></div>
<div class="t" style="left:2219.05px;top:1891.29px;font-size:22px;color:#3a3d41;">SFclinic</div>
<div class="a" style="left:2326.50px;top:1880.51px;width:133.2px;height:41.8px;border-radius:21px;background:#eff2f5;"></div>
<div class="a" style="left:2341.00px;top:1894.91px;width:12px;height:12px;border-radius:3px;background:#f7bd00;"></div>
<div class="t" style="left:2361.00px;top:1891.29px;font-size:22px;color:#3a3d41;">SFclinic</div>
<div class="a" style="left:2468.45px;top:1880.51px;width:133.2px;height:41.8px;border-radius:21px;background:#eff2f5;"></div>
<div class="a" style="left:2482.95px;top:1894.91px;width:12px;height:12px;border-radius:3px;background:#f7bd00;"></div>
<div class="t" style="left:2502.95px;top:1891.29px;font-size:22px;color:#3a3d41;">SFclinic</div>
<div class="a" style="left:2610.40px;top:1880.51px;width:81.5px;height:41.8px;border-radius:21px;background:#eff2f5;"></div>
<div class="a" style="left:2624.90px;top:1894.91px;width:12px;height:12px;border-radius:3px;background:#f7bd00;"></div>
<div class="t" style="left:2645.73px;top:1891.29px;font-size:22px;color:#3a3d41;">+2</div>
<div class="a" style="left:560px;top:2063.15px;width:2296px;height:2px;background:#ededef;"></div>
<svg style="left:561.2px;top:1979.22px" width="62" height="62" viewBox="0 0 62 62"><defs><clipPath id="c2"><circle cx="30.8" cy="30.5" r="30.8"/></clipPath></defs><g clip-path="url(#c2)">
<rect width="62" height="62" fill="#f6d98a"/>
<path d="M0 62 Q3 50 15 48.3 L48 48.3 Q60 50 62 62 Z" fill="#d7a48a"/>
<path d="M24.5 40 H35 V50 L29.5 53 L24.5 50 Z" fill="#dca68a"/>
<path d="M14.8 47.4 Q14 30 16 20 Q20 6 31 3.6 Q42 4 45 16 Q48 30 52 40 Q54 45 55.6 47.4 L43 48 L43 62 L32 62 L34 40 L24 40 L23.9 47.4 Z" fill="#231a17"/>
<ellipse cx="29.7" cy="27.5" rx="10.5" ry="15" fill="#e6af8f"/>
<path d="M18.5 24 Q21 12 31 11 Q40 11.5 42 20 Q38 14 30 14.5 Q22 15.5 18.5 24 Z" fill="#231a17"/>
<path d="M20.8 24 Q22.6 22.8 24.6 24" stroke="#4a2d20" stroke-width="1.5" fill="none"/><path d="M32 24 Q33.8 22.8 35.8 24" stroke="#4a2d20" stroke-width="1.5" fill="none"/>
<path d="M23.8 33.5 Q29 38.5 34.3 33.5 Q29 35.3 23.8 33.5 Z" fill="#fbefea" stroke="#d18b7c" stroke-width="1"/></g></svg>
<div class="t" style="left:646.93px;top:1997.18px;font-size:28px;color:#1b1e22;">Sara Gray, MD</div>
<div class="t" style="left:1292.00px;top:1997.18px;font-size:28px;color:#1b1e22;">Professional</div>
<div class="a" style="left:2042.60px;top:1989.58px;width:133.2px;height:41.8px;border-radius:21px;background:#eff2f5;"></div>
<div class="a" style="left:2057.10px;top:2003.98px;width:12px;height:12px;border-radius:3px;background:#f7bd00;"></div>
<div class="t" style="left:2077.10px;top:2000.36px;font-size:22px;color:#3a3d41;">SFclinic</div>
<div class="a" style="left:2184.55px;top:1989.58px;width:133.2px;height:41.8px;border-radius:21px;background:#eff2f5;"></div>
<div class="a" style="left:2199.05px;top:2003.98px;width:12px;height:12px;border-radius:3px;background:#f7bd00;"></div>
<div class="t" style="left:2219.05px;top:2000.36px;font-size:22px;color:#3a3d41;">SFclinic</div>
<div class="a" style="left:2326.50px;top:1989.58px;width:133.2px;height:41.8px;border-radius:21px;background:#eff2f5;"></div>
<div class="a" style="left:2341.00px;top:2003.98px;width:12px;height:12px;border-radius:3px;background:#f7bd00;"></div>
<div class="t" style="left:2361.00px;top:2000.36px;font-size:22px;color:#3a3d41;">SFclinic</div>
<div class="a" style="left:2468.45px;top:1989.58px;width:133.2px;height:41.8px;border-radius:21px;background:#eff2f5;"></div>
<div class="a" style="left:2482.95px;top:2003.98px;width:12px;height:12px;border-radius:3px;background:#f7bd00;"></div>
<div class="t" style="left:2502.95px;top:2000.36px;font-size:22px;color:#3a3d41;">SFclinic</div>
<div class="a" style="left:2610.40px;top:1989.58px;width:81.5px;height:41.8px;border-radius:21px;background:#eff2f5;"></div>
<div class="a" style="left:2624.90px;top:2003.98px;width:12px;height:12px;border-radius:3px;background:#f7bd00;"></div>
<div class="t" style="left:2645.73px;top:2000.36px;font-size:22px;color:#3a3d41;">+2</div>
<div class="a" style="left:561px;top:2088.28px;width:62px;height:62px;border-radius:50%;background:#0e80f7;"></div>
</div></div>
</body></html>
